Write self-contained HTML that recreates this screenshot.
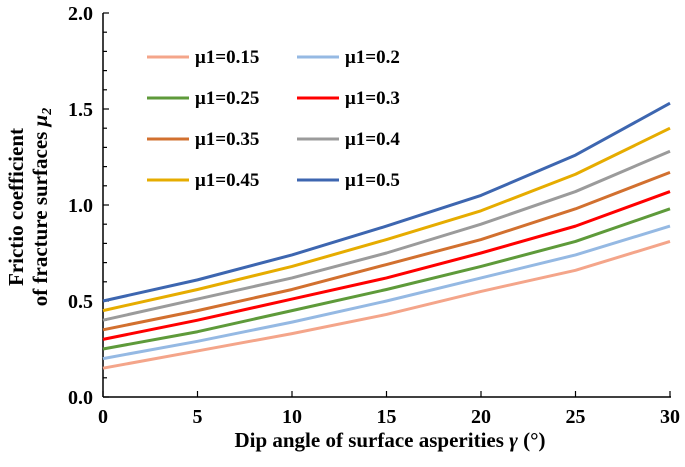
<!DOCTYPE html>
<html><head><meta charset="utf-8"><style>
body{margin:0;background:#fff;}
svg{display:block;font-family:"Liberation Serif",serif;font-weight:bold;}
</style></head><body>
<svg id="c" width="685" height="467">
<g id="axes"></g><g id="series"></g><g id="legend"></g>
<text x="390" y="447" font-size="21" text-anchor="middle">Dip angle of surface asperities <tspan font-style="italic">γ</tspan> (°)</text>
<g transform="translate(23,207) rotate(-90)">
<text x="0" y="0" font-size="21" text-anchor="middle">Frictio coefficient</text>
<text x="0" y="24" font-size="21" text-anchor="middle">of fracture surfaces <tspan font-style="italic">μ</tspan><tspan font-size="14" dy="4" font-style="italic">2</tspan></text>
</g>
</svg>
<script>
const xCats=[0,5,10,15,20,25,30];
const seriesNames=["μ1=0.15","μ1=0.2","μ1=0.25","μ1=0.3","μ1=0.35","μ1=0.4","μ1=0.45","μ1=0.5"];
const s015=[0.15,0.24,0.33,0.43,0.55,0.66,0.81];
const s020=[0.20,0.29,0.39,0.50,0.62,0.74,0.89];
const s025=[0.25,0.34,0.45,0.56,0.68,0.81,0.98];
const s030=[0.30,0.40,0.51,0.62,0.75,0.89,1.07];
const s035=[0.35,0.45,0.56,0.69,0.82,0.98,1.17];
const s040=[0.40,0.51,0.62,0.75,0.90,1.07,1.28];
const s045=[0.45,0.56,0.68,0.82,0.97,1.16,1.40];
const s050=[0.50,0.61,0.74,0.89,1.05,1.26,1.53];
const yTicks=["0.0","0.5","1.0","1.5","2.0"];
const xTicks=["0","5","10","15","20","25","30"];
const colors=["#f4a58a","#95b9e3","#5e9a3a","#ff0000","#d2702f","#9b9b9b","#e6ac00","#3d66b0"];
const allSeries=[s015,s020,s025,s030,s035,s040,s045,s050];
const NS="http://www.w3.org/2000/svg";
const X=v=>103+v/30*567, Y=v=>397-v*192;
function mk(t,a,p){const e=document.createElementNS(NS,t);for(const k in a)e.setAttribute(k,a[k]);p.appendChild(e);return e;}
const ax=document.getElementById('axes');
let l=mk('line',{x1:103,y1:13,x2:103,y2:397,stroke:'#000','stroke-width':1.5},ax);


l=mk('line',{x1:103,y1:397,x2:671,y2:397,stroke:'#000','stroke-width':1.5},ax);


for(let i=0;i<=20;i++){const y=Y(i*0.1);mk('line',{x1:103,y1:y,x2:i%5?107:109,y2:y,stroke:'#000','stroke-width':1.2},ax);}
yTicks.forEach(t=>{const e=mk('text',{x:93,y:Y(+t)+7,'font-size':20,'text-anchor':'end'},ax);e.textContent=t;

});
xTicks.forEach(t=>{const x=X(+t);mk('line',{x1:x,y1:397,x2:x,y2:391,stroke:'#000','stroke-width':1.2},ax);
const e=mk('text',{x:x,y:423,'font-size':20,'text-anchor':'middle'},ax);e.textContent=t;

});
const sg=document.getElementById('series');
allSeries.forEach((s,i)=>{const p=mk('polyline',{points:s.map((v,j)=>X(xCats[j])+','+Y(v)).join(' '),fill:'none',stroke:colors[i],'stroke-width':3,'stroke-linejoin':'round'},sg);

});
const lg=document.getElementById('legend');
seriesNames.forEach((n,i)=>{const col=i%2,row=Math.floor(i/2);const x=col?297:147,y=57+row*41;
const g=mk('g',{},lg);


mk('line',{x1:x,y1:y,x2:x+42,y2:y,stroke:colors[i],'stroke-width':3},g);
const t=mk('text',{x:x+48,y:y+6,'font-size':19},g);t.textContent=n;});
</script>
</body></html>
